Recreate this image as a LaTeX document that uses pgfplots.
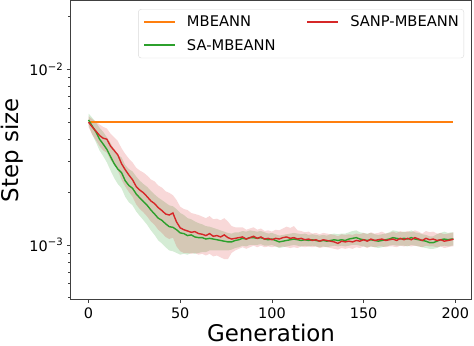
\documentclass[border=0pt]{standalone}
\usepackage{fontspec}
\setmainfont{DejaVu Sans}
\usepackage{pgfplots}
\usepackage{pgfplotstable}
\pgfplotsset{compat=1.18}
\usepgfplotslibrary{fillbetween}
\definecolor{tOrange}{HTML}{FF7F0E}
\definecolor{tGreen}{HTML}{2CA02C}
\definecolor{tRed}{HTML}{D62728}
\definecolor{spine}{HTML}{404040}
\pgfplotstableread{
g sa salo sahi sn snlo snhi
0 0.00515 0.00480 0.00560 0.00500 0.00470 0.00540
2 0.00475 0.00425 0.00530 0.00470 0.00425 0.00520
4 0.00440 0.00385 0.00500 0.00445 0.00395 0.00505
6 0.00400 0.00345 0.00465 0.00420 0.00365 0.00485
8 0.00375 0.00320 0.00440 0.00405 0.00345 0.00470
10 0.00350 0.00295 0.00410 0.00400 0.00335 0.00460
12 0.00318 0.00265 0.00380 0.00365 0.00305 0.00430
14 0.00290 0.00240 0.00350 0.00345 0.00285 0.00410
16 0.00270 0.00222 0.00325 0.00325 0.00265 0.00390
18 0.00258 0.00210 0.00315 0.00290 0.00235 0.00355
20 0.00232 0.00188 0.00285 0.00268 0.00215 0.00330
22 0.00218 0.00175 0.00270 0.00250 0.00200 0.00310
24 0.00210 0.00168 0.00262 0.00235 0.00188 0.00295
26 0.00195 0.00155 0.00245 0.00215 0.00170 0.00275
28 0.00185 0.00146 0.00232 0.00205 0.00160 0.00265
30 0.00176 0.00138 0.00222 0.00198 0.00153 0.00258
32 0.00168 0.00130 0.00214 0.00188 0.00145 0.00248
34 0.00158 0.00121 0.00203 0.00178 0.00136 0.00236
36 0.00150 0.00114 0.00194 0.00172 0.00130 0.00230
38 0.00142 0.00106 0.00186 0.00163 0.00122 0.00218
40 0.00138 0.00102 0.00180 0.00157 0.00117 0.00212
42 0.00132 0.00097 0.00174 0.00150 0.00111 0.00202
44 0.00127 0.00093 0.00168 0.00148 0.00108 0.00198
46 0.00126 0.00092 0.00166 0.00152 0.00110 0.00192
48 0.00122 0.00090 0.00160 0.00135 0.00098 0.00180
50 0.00117 0.00088 0.00152 0.00125 0.00092 0.00165
52 0.00116 0.00089 0.00148 0.00122 0.00090 0.00160
54 0.00113 0.00088 0.00142 0.00120 0.00090 0.00158
56 0.00114 0.00090 0.00140 0.00118 0.00089 0.00152
58 0.00111 0.00089 0.00136 0.00119 0.00090 0.00150
60 0.00110 0.00090 0.00133 0.00116 0.00088 0.00148
62 0.00110 0.00091 0.00131 0.00115 0.00089 0.00145
64 0.00108 0.00091 0.00128 0.00113 0.00087 0.00142
66 0.00109 0.00093 0.00127 0.00116 0.00089 0.00146
68 0.00108 0.00093 0.00125 0.00112 0.00086 0.00140
70 0.00107 0.00093 0.00123 0.00113 0.00087 0.00141
72 0.00106 0.00093 0.00121 0.00111 0.00085 0.00138
74 0.00105 0.00093 0.00119 0.00114 0.00083 0.00142
76 0.00104 0.00093 0.00117 0.00110 0.00083 0.00136
78 0.00104 0.00094 0.00116 0.00108 0.00090 0.00128
80 0.00106 0.00096 0.00118 0.00109 0.00093 0.00126
82 0.00107 0.00097 0.00118 0.00110 0.00095 0.00126
84 0.00109 0.00099 0.00120 0.00111 0.00097 0.00126
86 0.00108 0.00098 0.00119 0.00108 0.00095 0.00122
88 0.00110 0.00100 0.00121 0.00110 0.00097 0.00124
90 0.00110 0.00100 0.00120 0.00112 0.00099 0.00126
92 0.00109 0.00100 0.00119 0.00109 0.00097 0.00122
94 0.00110 0.00101 0.00120 0.00111 0.00099 0.00124
96 0.00108 0.00099 0.00118 0.00108 0.00097 0.00120
98 0.00107 0.00099 0.00116 0.00109 0.00098 0.00121
100 0.00108 0.00100 0.00117 0.00107 0.00097 0.00119
102 0.00106 0.00098 0.00115 0.00109 0.00098 0.00122
104 0.00104 0.00096 0.00113 0.00108 0.00097 0.00121
106 0.00105 0.00097 0.00114 0.00110 0.00098 0.00124
108 0.00106 0.00098 0.00115 0.00111 0.00097 0.00127
110 0.00107 0.00099 0.00116 0.00109 0.00096 0.00125
112 0.00108 0.00100 0.00117 0.00110 0.00097 0.00128
114 0.00107 0.00099 0.00116 0.00108 0.00096 0.00121
116 0.00106 0.00098 0.00115 0.00109 0.00098 0.00120
118 0.00107 0.00099 0.00116 0.00107 0.00097 0.00118
120 0.00106 0.00098 0.00114 0.00108 0.00098 0.00119
122 0.00107 0.00099 0.00115 0.00106 0.00097 0.00116
124 0.00106 0.00098 0.00114 0.00107 0.00098 0.00117
126 0.00105 0.00097 0.00113 0.00105 0.00096 0.00115
128 0.00106 0.00098 0.00114 0.00107 0.00097 0.00117
130 0.00105 0.00097 0.00113 0.00106 0.00097 0.00116
132 0.00106 0.00098 0.00115 0.00105 0.00096 0.00115
134 0.00107 0.00099 0.00116 0.00104 0.00095 0.00114
136 0.00106 0.00098 0.00115 0.00102 0.00094 0.00112
138 0.00107 0.00099 0.00116 0.00105 0.00096 0.00115
140 0.00106 0.00098 0.00116 0.00104 0.00095 0.00114
142 0.00108 0.00099 0.00118 0.00105 0.00096 0.00115
144 0.00109 0.00100 0.00120 0.00104 0.00095 0.00114
146 0.00110 0.00100 0.00121 0.00106 0.00097 0.00116
148 0.00108 0.00099 0.00118 0.00105 0.00096 0.00115
150 0.00107 0.00098 0.00117 0.00107 0.00098 0.00117
152 0.00106 0.00097 0.00116 0.00105 0.00096 0.00115
154 0.00107 0.00098 0.00117 0.00108 0.00098 0.00118
156 0.00106 0.00097 0.00115 0.00106 0.00097 0.00116
158 0.00105 0.00096 0.00114 0.00107 0.00098 0.00117
160 0.00106 0.00097 0.00115 0.00108 0.00098 0.00119
162 0.00107 0.00098 0.00116 0.00106 0.00097 0.00116
164 0.00108 0.00099 0.00118 0.00107 0.00098 0.00117
166 0.00110 0.00100 0.00121 0.00108 0.00098 0.00119
168 0.00109 0.00099 0.00120 0.00106 0.00097 0.00117
170 0.00108 0.00099 0.00118 0.00109 0.00099 0.00120
172 0.00109 0.00099 0.00119 0.00107 0.00098 0.00118
174 0.00108 0.00098 0.00118 0.00109 0.00099 0.00120
176 0.00110 0.00100 0.00121 0.00107 0.00098 0.00118
178 0.00108 0.00099 0.00118 0.00110 0.00099 0.00121
180 0.00107 0.00098 0.00117 0.00108 0.00098 0.00119
182 0.00106 0.00097 0.00115 0.00106 0.00097 0.00116
184 0.00105 0.00096 0.00114 0.00109 0.00099 0.00120
186 0.00103 0.00095 0.00112 0.00107 0.00098 0.00118
188 0.00103 0.00095 0.00112 0.00108 0.00098 0.00119
190 0.00105 0.00096 0.00115 0.00106 0.00097 0.00116
192 0.00107 0.00098 0.00117 0.00107 0.00098 0.00117
194 0.00108 0.00099 0.00119 0.00105 0.00096 0.00115
196 0.00107 0.00098 0.00117 0.00106 0.00097 0.00116
198 0.00108 0.00099 0.00118 0.00107 0.00098 0.00117
199 0.00108 0.00099 0.00118 0.00108 0.00098 0.00118
}\data
\begin{document}
\begin{tikzpicture}
\begin{axis}[
  scale only axis,
  width=401.4bp, height=298.3bp,
  ymode=log,
  xmin=-9.95, xmax=208.95,
  ymin=0.00049, ymax=0.0245,
  xtick={0,50,100,150,200},
  ytick={0.001,0.01},
  yticklabels={10\textsuperscript{−3},10\textsuperscript{−2}},
  minor ytick={0.0005,0.0006,0.0007,0.0008,0.0009,0.002,0.003,0.004,0.005,0.006,0.007,0.008,0.009,0.02},
  tick align=outside,
  xtick pos=left, ytick pos=left,
  major tick length=3.5bp, minor tick length=2bp,
  every tick/.style={spine, line width=0.8bp},
  axis line style={spine, line width=1bp},
  /pgf/number format/assume math mode=true,
  ticklabel style={font=\fontsize{14.5}{17}\selectfont},
  xticklabel style={yshift=-1bp},
  xlabel={Generation},
  ylabel={Step size},
  label style={font=\fontsize{23}{27}\selectfont},
  xlabel style={at={(axis description cs:0.5,0)}, anchor=base, yshift=-42.5bp, inner sep=0pt},
  ylabel style={at={(axis description cs:-0.1445,0.5)}, anchor=center},
  legend columns=2,
  legend cell align=left,
  legend style={at={(0.981,0.973)}, anchor=north east,
    font=\fontsize{14.75}{17}\selectfont,
    draw=black!15, rounded corners=3bp, fill=white, text opacity=1,
    nodes={inner sep=0pt},
    /tikz/every even column/.append style={column sep=31bp},
    row sep=11bp, inner xsep=5bp, inner ysep=6.5bp},
]
\addplot[draw=none, name path=saL, forget plot] table[x=g, y=salo]{\data};
\addplot[draw=none, name path=saH, forget plot] table[x=g, y=sahi]{\data};
\addplot[draw=none, name path=snL, forget plot] table[x=g, y=snlo]{\data};
\addplot[draw=none, name path=snH, forget plot] table[x=g, y=snhi]{\data};
\addplot[fill=tGreen, fill opacity=0.2, draw=none, forget plot] fill between[of=saL and saH];
\addplot[fill=tRed, fill opacity=0.18, draw=none, forget plot] fill between[of=snL and snH];
\addplot[tOrange, line width=1.4bp, forget plot] coordinates {(0,0.005) (199,0.005)};
\addplot[tGreen, line width=1.4bp, forget plot] table[x=g, y=sa]{\data};
\addplot[tRed, line width=1.4bp, forget plot] table[x=g, y=sn]{\data};
\addlegendimage{legend image code/.code={\draw[tOrange, line width=1.4bp] (0bp,0bp) -- (31bp,0bp); \path (42.7bp,0bp);}}
\addlegendentry{MBEANN}
\addlegendimage{legend image code/.code={\draw[tRed, line width=1.4bp] (0bp,0bp) -- (31bp,0bp); \path (42.7bp,0bp);}}
\addlegendentry{SANP-MBEANN}
\addlegendimage{legend image code/.code={\draw[tGreen, line width=1.5bp] (0bp,0.5bp) -- (31bp,0.5bp); \path (42.7bp,0bp);}}
\addlegendentry{SA-MBEANN}
\end{axis}
\pgfresetboundingbox
\useasboundingbox (current axis.south west) ++(-70.3bp,-46.7bp) rectangle ++(474bp,346bp);
\end{tikzpicture}
\end{document}
